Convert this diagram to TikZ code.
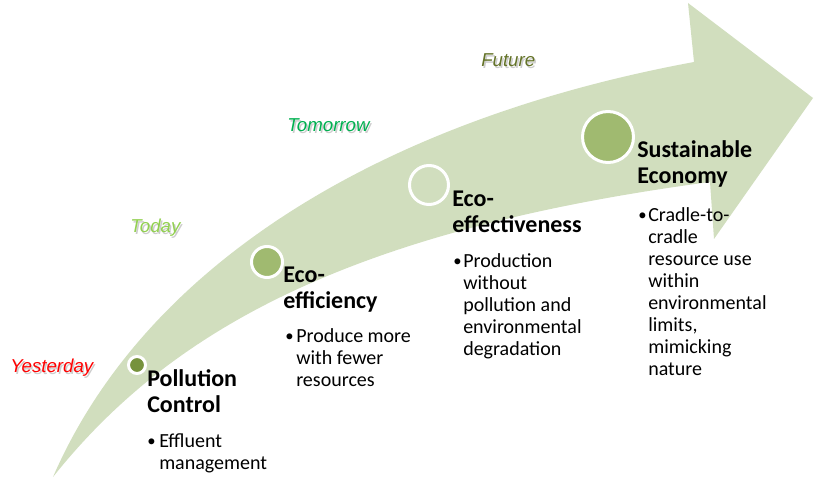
\documentclass[tikz,border=0pt]{standalone}
\usepackage{fontspec}
\setmainfont{Carlito}
\newfontfamily\arialfont{Liberation Sans}
\newcommand\stk[1]{\begin{tabular}[t]{@{}l@{}}#1\end{tabular}}
\definecolor{band}{RGB}{209,222,190}
\definecolor{darkolive}{RGB}{118,146,60}
\definecolor{midgreen}{RGB}{160,186,112}
\definecolor{todaygreen}{RGB}{146,208,80}
\definecolor{tomgreen}{RGB}{0,176,80}
\definecolor{futolive}{RGB}{100,115,40}
\tikzset{
  dot/.style={circle, draw=white, line width=2.25pt, inner sep=0pt},
  ttl/.style={anchor=base west, inner sep=0pt, font=\fontsize{18}{19.5}\selectfont\bfseries},
  body/.style={anchor=base west, inner sep=0pt, font=\fontsize{15}{16.5}\selectfont},
  bul/.style={anchor=base west, inner sep=0pt, font=\fontsize{12.5}{13}\selectfont, yshift=0.9pt},
  when/.style={anchor=base west, inner sep=0pt, font=\fontsize{14}{16}\selectfont\arialfont\itshape},
  whensh/.style={when, text=black!20}
}
\begin{document}
\begin{tikzpicture}[x=0.75pt,y=-0.75pt]
\useasboundingbox (0,0) rectangle (818,484);
% arrow band
\fill[band] (53,477) .. controls (145,265) and (380,120) .. (694,62)
  -- (688,3) -- (813,98) -- (714,239) -- (710,182)
  .. controls (350,230) and (170,330) .. (53,477) -- cycle;
% circles
\node[dot, fill=darkolive, minimum size=12.75pt] (c1) at (137,365) {};
\node[dot, fill=midgreen, minimum size=23.25pt] (c2) at (267,262) {};
\node[dot, fill=band, minimum size=29.25pt] (c3) at (429,185) {};
\node[dot, fill=midgreen, minimum size=38.25pt] (c4) at (608,137) {};
% time labels
\node[whensh] (ysh) at (11.5,374.5) {Yesterday};
\node[when, text=red] (y) at (10,373) {Yesterday};
\node[whensh] (tdsh) at (131.5,234.5) {Today};
\node[when, text=todaygreen] (td) at (130,233) {Today};
\node[whensh] (tmsh) at (288.5,133.5) {Tomorrow};
\node[when, text=tomgreen] (tm) at (287,132) {Tomorrow};
\node[whensh] (fsh) at (482.5,68.5) {Future};
\node[when, text=futolive] (f) at (481,67) {Future};
% stage 1
\node[ttl] (t1) at (147,387) {\stk{Pollution\\Control}};
\node[bul] (b1) at (147,448) {\textbullet};
\node[body] (x1) at (159,448) {\stk{Effluent\\management}};
% stage 2
\node[ttl] (t2) at (283,283) {\stk{Eco-\\efficiency}};
\node[bul] (b2) at (285,343) {\textbullet};
\node[body] (x2) at (296,343) {\stk{Produce more\\with fewer\\resources}};
% stage 3
\node[ttl] (t3) at (452,207) {\stk{Eco-\\effectiveness}};
\node[bul] (b3) at (453,268) {\textbullet};
\node[body] (x3) at (463,268) {\stk{Production\\without\\pollution and\\environmental\\degradation}};
% stage 4
\node[ttl] (t4) at (637,158) {\stk{Sustainable\\Economy}};
\node[bul] (b4) at (638,222) {\textbullet};
\node[body] (x4) at (648,222) {\stk{Cradle-to-\\cradle\\resource use\\within\\environmental\\limits,\\mimicking\\nature}};
\end{tikzpicture}
\end{document}
